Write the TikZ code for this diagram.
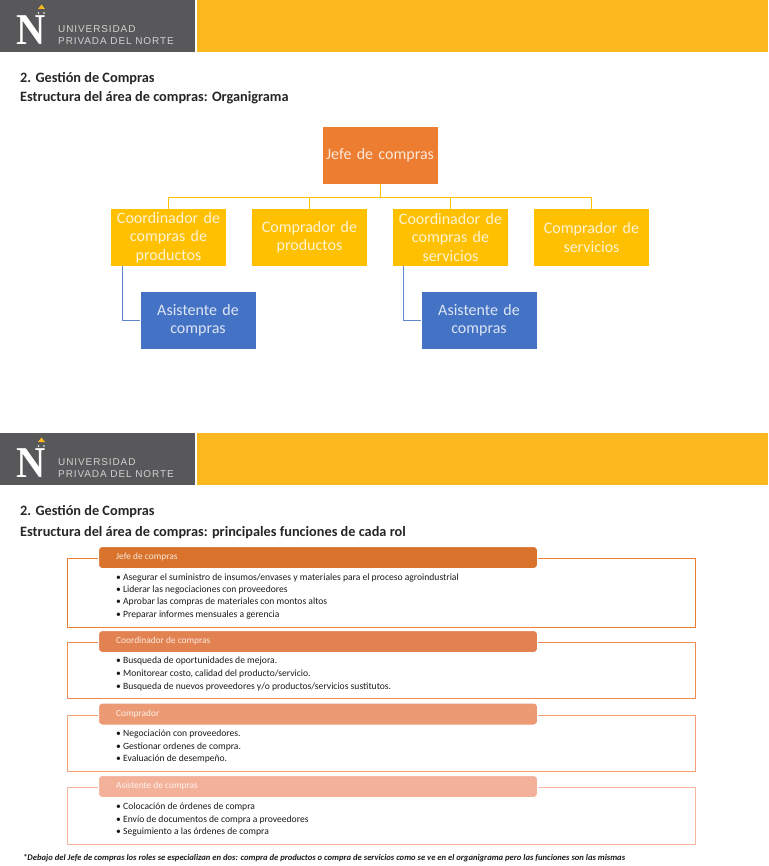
\documentclass[tikz,border=0pt]{standalone}
\usepackage{fontspec}
\setmainfont{Carlito}
\newfontfamily\logofont[LetterSpace=9]{Liberation Sans}
\newfontfamily\logoN{Liberation Serif}
\usetikzlibrary{arrows.meta,positioning}
\definecolor{bargray}{HTML}{58585A}
\definecolor{barorange}{HTML}{FBB81F}
\definecolor{boxorange}{HTML}{ED7D31}
\definecolor{boxyellow}{HTML}{FFC000}
\definecolor{boxblue}{HTML}{4472C4}
\definecolor{pillA}{HTML}{D9722B}
\definecolor{pillB}{HTML}{E28250}
\definecolor{pillC}{HTML}{EC9A73}
\definecolor{pillD}{HTML}{F4B19A}
\definecolor{frameA}{HTML}{ED7D31}
\definecolor{frameB}{HTML}{EF8A52}
\definecolor{frameC}{HTML}{F29E78}
\definecolor{frameD}{HTML}{F7B79C}
\tikzset{
  heading/.style={anchor=west, inner sep=0pt, font=\fontsize{14.3}{16}\selectfont\bfseries, text=black!85},
  orgbox/.style={minimum width=115pt, minimum height=57pt, inner sep=1pt, text width=113pt, align=center, text=white, text opacity=0.82, font=\fontsize{16}{18.4}\selectfont},
  pill/.style={rounded corners=3.5pt, draw=white, line width=1pt, minimum width=439pt, minimum height=22pt, inner sep=0pt},
  pilltext/.style={anchor=west, inner sep=0pt, text=white, text opacity=0.85, font=\fontsize{9.4}{11}\selectfont},
  frame/.style={line width=1pt},
  items/.style={anchor=north west, inner sep=0pt, align=left, text=black!90, font=\fontsize{9.6}{12.3}\selectfont},
  logotext/.style={anchor=west, inner sep=0pt, text=black!18, font=\fontsize{10}{11}\logofont}
}
\begin{document}
\begin{tikzpicture}[x=1pt, y=-1pt]
  \useasboundingbox (0,0) rectangle (768,866);
  % Slide bars
  \fill[bargray] (0,0) rectangle (195,52);
  \fill[barorange] (197,0) rectangle (768,52);
  \fill[bargray] (0,433) rectangle (195,485);
  \fill[barorange] (197,433) rectangle (768,485);
  % Logo, top
  \node[inner sep=0pt, text=white, xscale=0.92, font=\fontsize{44}{44}\logoN\bfseries] (logoA) at (31,30.5) {N};
  \fill[barorange] (38,9) -- (41.5,4.5) -- (45,9) -- cycle;
  \fill[white] (38.5,13) circle (0.9) (44,13) circle (0.9);
  \node[logotext] (uniA) at (58,29) {UNIVERSIDAD};
  \node[logotext] (priA) at (58,41) {PRIVADA DEL NORTE};
  % Logo, bottom
  \node[inner sep=0pt, text=white, xscale=0.92, font=\fontsize{44}{44}\logoN\bfseries] (logoB) at (31,463.5) {N};
  \fill[barorange] (38,442) -- (41.5,437.5) -- (45,442) -- cycle;
  \fill[white] (38.5,446) circle (0.9) (44,446) circle (0.9);
  \node[logotext] (uniB) at (58,462) {UNIVERSIDAD};
  \node[logotext] (priB) at (58,474) {PRIVADA DEL NORTE};
  % Headings
  \node[heading] (titleA) at (20,78.5) {2. Gestión de Compras};
  \node[heading] (subA) at (20,97.5) {Estructura del área de compras: Organigrama};
  \node[heading] (titleB) at (20,511.5) {2. Gestión de Compras};
  \node[heading] (subB) at (20,533) {Estructura del área de compras: principales funciones de cada rol};
  % Organigrama
  \node[orgbox, fill=boxorange] (jefe) at (380,155.5) {Jefe de compras};
  \node[orgbox, fill=boxyellow] (coordP) at (168.5,237.5) {Coordinador de\\compras de\\productos};
  \node[orgbox, fill=boxyellow] (compP) at (309.5,237.5) {Comprador de\\productos};
  \node[orgbox, fill=boxyellow] (coordS) at (450.5,237.5) {Coordinador de\\compras de\\servicios};
  \node[orgbox, fill=boxyellow] (compS) at (591.5,237.5) {Comprador de\\servicios};
  \node[orgbox, fill=boxblue] (asisP) at (198,320) {Asistente de\\compras};
  \node[orgbox, fill=boxblue] (asisS) at (479,320) {Asistente de\\compras};
  % Draw links
  \draw[boxyellow, line width=1pt] (jefe.south) -- ++(0,13) -| (coordP.north);
  \draw[boxyellow, line width=1pt] (jefe.south) -- ++(0,13) -| (compP.north);
  \draw[boxyellow, line width=1pt] (jefe.south) -- ++(0,13) -| (coordS.north);
  \draw[boxyellow, line width=1pt] (jefe.south) -- ++(0,13) -| (compS.north);
  \draw[boxblue!85!white, line width=1pt] (coordP.south west) ++(12,0) |- (asisP.west);
  \draw[boxblue!85!white, line width=1pt] (coordS.south west) ++(11,0) |- (asisS.west);
  % Roles
  \draw[frame, frameA] (67,558) rectangle (695,627);
  \node[pill, fill=pillA] (pillJefe) at (318,557.5) {};
  \node[pilltext] (txtJefe) at (116,556.5) {Jefe de compras};
  \node[items] (listJefe) at (116,573.5) {• Asegurar el suministro de insumos/envases y materiales para el proceso agroindustrial\\
    • Liderar las negociaciones con proveedores\\
    • Aprobar las compras de materiales con montos altos\\
    • Preparar informes mensuales a gerencia};
  \draw[frame, frameB] (67,642) rectangle (695,698);
  \node[pill, fill=pillB] (pillCoord) at (318,641.5) {};
  \node[pilltext] (txtCoord) at (116,641) {Coordinador de compras};
  \node[items, font=\fontsize{9.6}{13}\selectfont] (listCoord) at (116,657) {• Busqueda de oportunidades de mejora.\\
    • Monitorear costo, calidad del producto/servicio.\\
    • Busqueda de nuevos proveedores y/o productos/servicios sustitutos.};
  \draw[frame, frameC] (67,715) rectangle (695,771);
  \node[pill, fill=pillC] (pillComp) at (318,714) {};
  \node[pilltext] (txtComp) at (116,713.5) {Comprador};
  \node[items] (listComp) at (116,730) {• Negociación con proveedores.\\
    • Gestionar ordenes de compra.\\
    • Evaluación de desempeño.};
  \draw[frame, frameD] (67,787) rectangle (695,844);
  \node[pill, fill=pillD] (pillAsis) at (318,786.5) {};
  \node[pilltext] (txtAsis) at (116,786) {Asistente de compras};
  \node[items] (listAsis) at (116,803) {• Colocación de órdenes de compra\\
    • Envío de documentos de compra a proveedores\\
    • Seguimiento a las órdenes de compra};
  % Footnote
  \node[anchor=west, inner sep=0pt, font=\fontsize{8.6}{10}\selectfont\itshape\bfseries, text=black!90] (note) at (23,858) {*Debajo del Jefe de compras los roles se especializan en dos: compra de productos o compra de servicios como se ve en el organigrama pero las funciones son las mismas};
\end{tikzpicture}
\end{document}
